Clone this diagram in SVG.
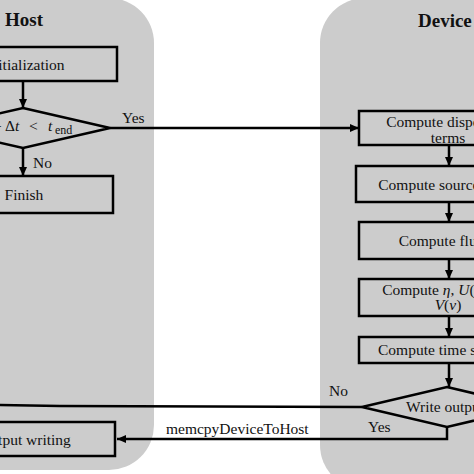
<svg xmlns="http://www.w3.org/2000/svg" width="474" height="474" viewBox="0 0 474 474">
<style>
.panel{fill:#cccccc;stroke:none}
.box{fill:none;stroke:#000;stroke-width:2.5}
.ln{fill:none;stroke:#000;stroke-width:2.5}
text{font-family:"Liberation Serif","Times New Roman",serif;font-size:15.5px;fill:#111}
.c{text-anchor:middle}
.h{font-weight:bold;font-size:19px}
.i{font-style:italic}
</style>
<defs>
<marker id="ah" markerUnits="userSpaceOnUse" markerWidth="10" markerHeight="8" refX="9" refY="4" orient="auto">
<path d="M0,0 L9,4 L0,8 Z" fill="#000"/>
</marker>
</defs>
<rect class="panel" x="-60" y="-2" width="214" height="472" rx="45"/>
<rect class="panel" x="320" y="-2" width="220" height="492" rx="45"/>
<text class="h" x="5" y="26">Host</text>
<text class="h" x="418" y="27">Device</text>

<g id="connectors">
<line class="ln" x1="23" y1="81" x2="23" y2="108" marker-end="url(#ah)"/>
<line class="ln" x1="23" y1="148" x2="23" y2="176" marker-end="url(#ah)"/>
<line class="ln" x1="110" y1="128" x2="359" y2="128" marker-end="url(#ah)"/>
<line class="ln" x1="449" y1="145" x2="449" y2="166" marker-end="url(#ah)"/>
<line class="ln" x1="449" y1="202" x2="449" y2="222" marker-end="url(#ah)"/>
<line class="ln" x1="449" y1="259" x2="449" y2="279" marker-end="url(#ah)"/>
<line class="ln" x1="449" y1="316" x2="449" y2="337" marker-end="url(#ah)"/>
<line class="ln" x1="449" y1="363" x2="449" y2="387" marker-end="url(#ah)"/>
<polyline class="ln" points="362,407 60,406 -5,405"/>
<polyline class="ln" points="447,427 447,439 117,439" marker-end="url(#ah)"/>
<text x="122" y="123">Yes</text>
<text x="33" y="168">No</text>
<text x="329" y="396">No</text>
<text x="368" y="432">Yes</text>
<text x="166" y="434">memcpyDeviceToHost</text>
</g>

<g id="init">
<rect class="box" x="-70" y="47" width="187" height="34"/>
<text class="c" x="25" y="70">Initialization</text>
</g>
<g id="check-time">
<polygon class="box" points="23,108 110,128 23,148 -64,128"/>
<text y="131"><tspan class="i" x="-20">t</tspan><tspan x="-7">+</tspan><tspan x="5">Δ</tspan><tspan class="i">t</tspan><tspan x="29">&lt;</tspan><tspan class="i" x="48">t</tspan><tspan x="55" dy="3" font-size="12">end</tspan></text>
</g>
<g id="finish">
<rect class="box" x="-70" y="176" width="183" height="37"/>
<text class="c" x="24" y="200">Finish</text>
</g>
<g id="output-writing">
<rect class="box" x="-70" y="422" width="185" height="34"/>
<text class="c" x="25" y="445">Output writing</text>
</g>

<g id="dispersive">
<rect class="box" x="359" y="111" width="181" height="34"/>
<text class="c" x="448" y="127">Compute dispersive</text>
<text class="c" x="448" y="143">terms</text>
</g>
<g id="source">
<rect class="box" x="356" y="166" width="184" height="36"/>
<text class="c" x="448" y="190">Compute source terms</text>
</g>
<g id="fluxes">
<rect class="box" x="359" y="222" width="181" height="37"/>
<text class="c" x="448" y="246">Compute fluxes</text>
</g>
<g id="eta">
<rect class="box" x="359" y="279" width="181" height="37"/>
<text class="c" x="448" y="295">Compute <tspan class="i">η</tspan>, <tspan class="i">U</tspan>(<tspan class="i">u</tspan>) and</text>
<text class="c" x="448" y="310"><tspan class="i">V</tspan>(<tspan class="i">v</tspan>)</text>
</g>
<g id="timestep">
<rect class="box" x="359" y="337" width="181" height="26"/>
<text x="378" y="355">Compute time step Δ<tspan class="i">t</tspan></text>
</g>
<g id="write-output">
<polygon class="box" points="447,387 532,407 447,427 362,407"/>
<text x="406" y="412">Write output?</text>
</g>
</svg>
